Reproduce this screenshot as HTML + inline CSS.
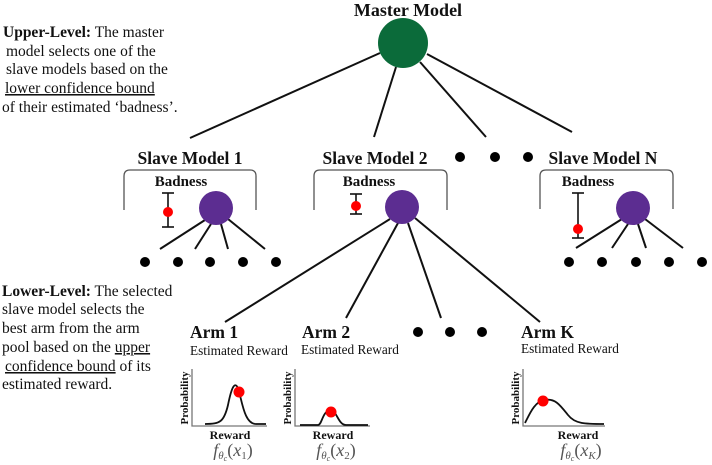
<!DOCTYPE html>
<html><head><meta charset="utf-8"><style>
html,body{margin:0;padding:0;background:#fff;}
svg{display:block;}
text{font-family:"Liberation Serif",serif;fill:#111;}
.b{font-weight:bold;}
</style></head><body>
<svg width="712" height="465" viewBox="0 0 712 465" xmlns="http://www.w3.org/2000/svg">
<g stroke="#111" stroke-width="2" fill="none">
<line x1="380" y1="53" x2="190" y2="138"/>
<line x1="396" y1="67" x2="374" y2="137"/>
<line x1="420" y1="62" x2="486" y2="137"/>
<line x1="427" y1="54" x2="572" y2="132"/>
</g>
<text x="408" y="16" font-size="18" class="b" text-anchor="middle">Master Model</text>
<circle cx="403" cy="43" r="25" fill="#0b6b3a"/>

<g font-size="15.5">
<text x="3" y="37"><tspan class="b">Upper-Level:</tspan> The master</text>
<text x="6" y="56">model selects one of the</text>
<text x="6" y="74">slave models based on the</text>
<text x="5" y="93" text-decoration="underline">lower confidence bound</text>
<text x="2" y="112">of their estimated ‘badness’.</text>

<text x="2" y="296"><tspan class="b">Lower-Level:</tspan> The selected</text>
<text x="2" y="314">slave model selects the</text>
<text x="2" y="333">best arm from the arm</text>
<text x="2" y="352">pool based on the <tspan text-decoration="underline">upper</tspan></text>
<text x="5" y="371"><tspan text-decoration="underline">confidence bound</tspan> of its</text>
<text x="2" y="389">estimated reward.</text>
</g>

<text x="190" y="164" font-size="17.5" class="b" text-anchor="middle">Slave Model 1</text>
<text x="375" y="164" font-size="17.5" class="b" text-anchor="middle">Slave Model 2</text>
<text x="603" y="164" font-size="17.5" class="b" text-anchor="middle">Slave Model N</text>
<circle cx="460" cy="157" r="5" fill="#000"/>
<circle cx="495" cy="157" r="5" fill="#000"/>
<circle cx="528" cy="157" r="5" fill="#000"/>

<g stroke="#555" stroke-width="1.3" fill="none">
<path d="M124 210 V176 Q124 170 130 170 H250 Q256 170 256 176 V210"/>
<path d="M314 210 V176 Q314 170 320 170 H441 Q447 170 447 176 V210"/>
<path d="M540 209 V176 Q540 170 546 170 H667 Q673 170 673 176 V209"/>
</g>
<text x="181" y="186" font-size="15" class="b" text-anchor="middle">Badness</text>
<text x="369" y="186" font-size="15" class="b" text-anchor="middle">Badness</text>
<text x="588" y="186" font-size="15" class="b" text-anchor="middle">Badness</text>

<g stroke="#111" stroke-width="1.6">
<line x1="168" y1="193" x2="168" y2="227"/><line x1="162" y1="193" x2="174" y2="193"/><line x1="162" y1="227" x2="174" y2="227"/>
<line x1="356" y1="194" x2="356" y2="214"/><line x1="350" y1="194" x2="362" y2="194"/><line x1="350" y1="214" x2="362" y2="214"/>
<line x1="578" y1="193" x2="578" y2="238"/><line x1="572" y1="193" x2="584" y2="193"/><line x1="572" y1="238" x2="584" y2="238"/>
</g>
<circle cx="168" cy="212" r="5" fill="#f00"/>
<circle cx="356" cy="206" r="5" fill="#f00"/>
<circle cx="578" cy="229" r="5" fill="#f00"/>

<g stroke="#111" stroke-width="2">
<line x1="205" y1="220" x2="160" y2="249"/><line x1="211" y1="224" x2="195" y2="249"/><line x1="221" y1="224" x2="228" y2="249"/><line x1="228" y1="219" x2="265" y2="249"/>
<line x1="622" y1="219" x2="576" y2="248"/><line x1="628" y1="224" x2="612" y2="248"/><line x1="638" y1="224" x2="646" y2="248"/><line x1="645" y1="219" x2="683" y2="248"/>
<line x1="390" y1="219" x2="225" y2="322"/><line x1="398" y1="223" x2="346" y2="318"/><line x1="408" y1="223" x2="441" y2="318"/><line x1="415" y1="218" x2="540" y2="322"/>
</g>
<circle cx="216" cy="208" r="17" fill="#5c2d91"/>
<circle cx="402" cy="207" r="17" fill="#5c2d91"/>
<circle cx="633" cy="208" r="17" fill="#5c2d91"/>
<g fill="#000">
<circle cx="145" cy="262" r="5"/><circle cx="178" cy="262" r="5"/><circle cx="210" cy="262" r="5"/><circle cx="243" cy="262" r="5"/><circle cx="276" cy="262" r="5"/>
<circle cx="569" cy="262" r="5"/><circle cx="602" cy="262" r="5"/><circle cx="636" cy="262" r="5"/><circle cx="669" cy="262" r="5"/><circle cx="702" cy="262" r="5"/>
<circle cx="418" cy="332" r="5"/><circle cx="450" cy="332" r="5"/><circle cx="482" cy="332" r="5"/>
</g>

<text x="190" y="338" font-size="17.5" class="b">Arm 1</text>
<text x="302" y="338" font-size="17.5" class="b">Arm 2</text>
<text x="521" y="338" font-size="17.5" class="b">Arm K</text>
<text x="190" y="355" font-size="13.3">Estimated Reward</text>
<text x="301" y="354" font-size="13.3">Estimated Reward</text>
<text x="521" y="353" font-size="13.3">Estimated Reward</text>

<g stroke="#777" stroke-width="1.3" fill="none">
<path d="M192 369 V426 H267"/>
<path d="M295 369 V426 H370"/>
<path d="M523 369 V426 H605"/>
</g>
<g stroke="#111" stroke-width="1.8" fill="none">
<path d="M205 424 C220 424 224 422 228 405 C232 385 235 382 238 388 C242 400 244 424 256 424 H266"/>
<path d="M300 425 H318 C322 425 322 412 330 410 C337 410 338 425 346 425 H368"/>
<path d="M525 423 C530 413 535 401 545 400 C555 398 560 405 568 415 C575 424 585 424 604 424"/>
</g>
<circle cx="239" cy="392" r="5.5" fill="#f00"/>
<circle cx="331" cy="412" r="5.5" fill="#f00"/>
<circle cx="543" cy="401" r="5.5" fill="#f00"/>
<text transform="translate(188,398) rotate(-90)" font-size="11" class="b" text-anchor="middle">Probability</text>
<text transform="translate(291,398) rotate(-90)" font-size="11" class="b" text-anchor="middle">Probability</text>
<text transform="translate(519,398) rotate(-90)" font-size="11" class="b" text-anchor="middle">Probability</text>
<text x="230" y="439" font-size="12" class="b" text-anchor="middle">Reward</text>
<text x="333" y="439" font-size="12" class="b" text-anchor="middle">Reward</text>
<text x="578" y="439" font-size="12" class="b" text-anchor="middle">Reward</text>
<g font-size="18" font-style="italic">
<text x="233" y="456" text-anchor="middle" style="fill:#555">f<tspan font-size="11" dy="3">θ</tspan><tspan font-size="8" dy="2">c</tspan><tspan dy="-5" font-style="normal">(</tspan>x<tspan font-size="11" dy="3" font-style="normal">1</tspan><tspan dy="-3" font-style="normal">)</tspan></text>
<text x="336" y="456" text-anchor="middle" style="fill:#555">f<tspan font-size="11" dy="3">θ</tspan><tspan font-size="8" dy="2">c</tspan><tspan dy="-5" font-style="normal">(</tspan>x<tspan font-size="11" dy="3" font-style="normal">2</tspan><tspan dy="-3" font-style="normal">)</tspan></text>
<text x="581" y="456" text-anchor="middle" style="fill:#555">f<tspan font-size="11" dy="3">θ</tspan><tspan font-size="8" dy="2">c</tspan><tspan dy="-5" font-style="normal">(</tspan>x<tspan font-size="11" dy="3">K</tspan><tspan dy="-3" font-style="normal">)</tspan></text>
</g>
</svg>
</body></html>
